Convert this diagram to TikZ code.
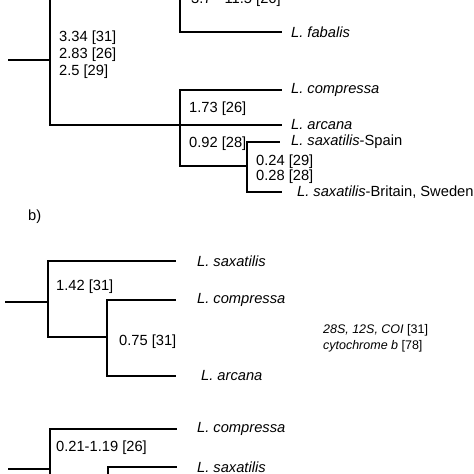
\documentclass[tikz,border=0pt]{standalone}
\usepackage{fontspec}
\setmainfont{Liberation Sans}
\usetikzlibrary{positioning}

\begin{document}
\begin{tikzpicture}[x=1pt, y=-1pt, line width=2.2pt,
    every node/.style={font=\fontsize{14.7}{17}\selectfont, inner sep=0pt},
    taxon/.style={font=\fontsize{14.7}{17}\selectfont\itshape},
    est/.style={anchor=base west},
    note/.style={anchor=base west, font=\fontsize{12.5}{16}\selectfont}]
  \useasboundingbox (0,0) rectangle (474,474);
  \clip (0,0) rectangle (474,474);

  % a)
  \coordinate (aroot) at (8,60);
  \coordinate (a1) at (50,60);
  \coordinate (au) at (180,-30);
  \coordinate (a2) at (180,125);
  \coordinate (a3) at (247,166);
  \coordinate (fabtip) at (282,32);
  \coordinate (acomptip) at (282,90);
  \coordinate (aarctip) at (282,125);
  \coordinate (spaintip) at (280,142);
  \coordinate (brittip) at (282,192);

  \draw (aroot) -- (a1);
  \draw (a1) |- (au);
  \draw (a1) |- (a2);
  \draw (au) |- (fabtip);
  \draw (a2) |- (acomptip);
  \draw (a2) -- (aarctip);
  \draw (a2) |- (a3);
  \draw (a3) |- (spaintip);
  \draw (a3) |- (brittip);

  \node[taxon, right=8pt of fabtip] (fab) {L. fabalis};
  \node[taxon, right=8pt of acomptip] (acomp) {L. compressa};
  \node[taxon, right=8pt of aarctip] (aarc) {L. arcana};
  \node[right=10pt of spaintip] (spain) {\textit{L. saxatilis}-Spain};
  \node[right=14pt of brittip] (brit) {\textit{L. saxatilis}-Britain, Sweden};

  \node[est] (eu) at (190,3) {3.7 - 11.5 [26]};
  \node[est] (e1) at (58,41) {3.34 [31]};
  \node[est] (e2) at (58,58) {2.83 [26]};
  \node[est] (e3) at (58,75) {2.5 [29]};
  \node[est] (e4) at (188,112) {1.73 [26]};
  \node[est] (e5) at (188,147) {0.92 [28]};
  \node[est] (e6) at (255,165) {0.24 [29]};
  \node[est] (e7) at (255,180) {0.28 [28]};

  % b)
  \node[est] (blabel) at (27,220) {b)};
  \coordinate (broot) at (5,302);
  \coordinate (b1) at (48,302);
  \coordinate (b2) at (107,337);
  \coordinate (bsaxtip) at (176,261);
  \coordinate (bcomptip) at (176,300);
  \coordinate (barctip) at (176,376);

  \draw (broot) -- (b1);
  \draw (b1) |- (bsaxtip);
  \draw (b1) |- (b2);
  \draw (b2) |- (bcomptip);
  \draw (b2) |- (barctip);

  \node[taxon, right=20pt of bsaxtip] (bsax) {L. saxatilis};
  \node[taxon, right=20pt of bcomptip] (bcomp) {L. compressa};
  \node[taxon, right=24pt of barctip] (barc) {L. arcana};

  \node[est] (e8) at (55,290) {1.42 [31]};
  \node[est] (e9) at (118,345) {0.75 [31]};
  \node[note] (genes) at (322,333) {\textit{28S, 12S, COI} [31]};
  \node[note] (cytb) at (322,349) {\textit{cytochrome b} [78]};

  % c)
  \coordinate (croot) at (8,469);
  \coordinate (c1) at (50,469);
  \coordinate (c2) at (108,500);
  \coordinate (ccomptip) at (177,429);
  \coordinate (csaxtip) at (177,467);

  \draw (croot) -- (c1);
  \draw (c1) |- (ccomptip);
  \draw (c1) |- (c2);
  \draw (c2) |- (csaxtip);

  \node[taxon, right=19pt of ccomptip] (ccomp) {L. compressa};
  \node[taxon, right=19pt of csaxtip] (csax) {L. saxatilis};
  \node[est] (e10) at (55,451) {0.21-1.19 [26]};
\end{tikzpicture}
\end{document}
